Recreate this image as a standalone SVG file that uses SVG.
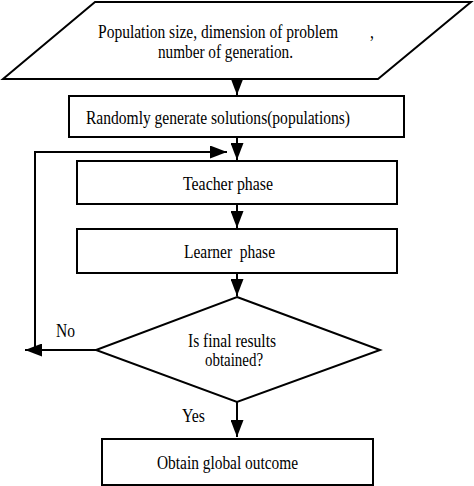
<svg xmlns="http://www.w3.org/2000/svg" width="474" height="486" viewBox="0 0 474 486">
<defs>
<style>
.n{fill:#fff;stroke:#000;stroke-width:2}
.c{fill:none;stroke:#000;stroke-width:2}
text{font-family:"Liberation Serif","Times New Roman",serif;font-size:15.7px;fill:#000}
</style>
<marker id="ah" markerWidth="17" markerHeight="13" refX="17" refY="6.5" orient="auto" markerUnits="userSpaceOnUse" viewBox="0 0 17 13">
<path d="M0,0 L17,6.5 L0,13 Z" fill="#000"/>
</marker>
</defs>
<rect width="474" height="486" fill="#fff"/>
<g id="connectors">
<path class="c" d="M237,79 V95" marker-end="url(#ah)"/>
<path class="c" d="M237,137 V160" marker-end="url(#ah)"/>
<path class="c" d="M237,204 V228" marker-end="url(#ah)"/>
<path class="c" d="M237,273 V296" marker-end="url(#ah)"/>
<path class="c" d="M237,402 V437" marker-end="url(#ah)"/>
<path class="c" d="M96,350 H25" marker-end="url(#ah)"/>
<path class="c" d="M35,350 V152 H227" marker-end="url(#ah)"/>
<text transform="translate(56,337) scale(1,1.2)" textLength="19" lengthAdjust="spacingAndGlyphs">No</text>
<text transform="translate(182,422) scale(1,1.2)" textLength="23" lengthAdjust="spacingAndGlyphs">Yes</text>
</g>
<g id="input">
<polygon class="n" points="95,2 471,2 378,79 3,79"/>
<text transform="translate(98,38) scale(1,1.2)" textLength="240" lengthAdjust="spacingAndGlyphs">Population size, dimension of problem</text>
<text transform="translate(370,38) scale(1,1.2)">,</text>
<text transform="translate(158,58) scale(1,1.2)" textLength="135" lengthAdjust="spacingAndGlyphs">number of generation.</text>
</g>
<g id="init">
<rect class="n" x="69" y="96" width="335" height="41"/>
<text transform="translate(86,124) scale(1,1.2)" textLength="264" lengthAdjust="spacingAndGlyphs">Randomly generate solutions(populations)</text>
</g>
<g id="teacher">
<rect class="n" x="77" y="161" width="320" height="43"/>
<text transform="translate(183,190) scale(1,1.2)" textLength="90" lengthAdjust="spacingAndGlyphs">Teacher phase</text>
</g>
<g id="learner">
<rect class="n" x="77" y="229" width="320" height="44"/>
<text transform="translate(184,258) scale(1,1.2)" textLength="91" lengthAdjust="spacingAndGlyphs" xml:space="preserve">Learner  phase</text>
</g>
<g id="decision">
<polygon class="n" points="237,297 380,350 237,402 96,350"/>
<text transform="translate(188,347) scale(1,1.2)" textLength="88" lengthAdjust="spacingAndGlyphs">Is final results</text>
<text transform="translate(205,366) scale(1,1.2)" textLength="58" lengthAdjust="spacingAndGlyphs">obtained?</text>
</g>
<g id="output">
<rect class="n" x="102" y="439" width="271" height="46"/>
<text transform="translate(157,469) scale(1,1.2)" textLength="141" lengthAdjust="spacingAndGlyphs">Obtain global outcome</text>
</g>
</svg>
